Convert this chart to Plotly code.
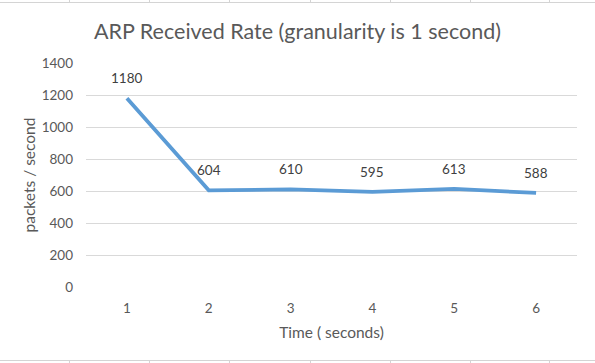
import plotly.graph_objects as go

# Data
time_s = [1, 2, 3, 4, 5, 6]
packets_per_sec = [1180, 604, 610, 595, 613, 588]
y_ticks = [0, 200, 400, 600, 800, 1000, 1200, 1400]

W, H = 595, 363
L, R, T, B = 86, 18, 63, 76
FONT = "Lato"
GREY = "#595959"

fig = go.Figure()
fig.add_trace(go.Scatter(
    x=time_s, y=packets_per_sec, mode="lines",
    line=dict(color="#5B9BD5", width=3.8),
    hoverinfo="skip", showlegend=False,
))

for xv, yv in zip(time_s, packets_per_sec):
    fig.add_annotation(x=xv, y=yv, text=str(yv), showarrow=False, yshift=20,
                       font=dict(family=FONT, size=13.5, color="#404040"))

# spreadsheet cell borders behind the chart (decoration)
pw, ph = W - L - R, H - T - B
def px(x):
    return (x - L) / pw
def py(y):
    return (H - B - y) / ph
cell_cols = [69, 149, 229, 310, 390, 470, 549]
line_style = dict(color="#D4D4D4", width=1)
shapes = [
    dict(type="line", xref="paper", yref="paper", x0=px(0), x1=px(W), y0=py(2.5), y1=py(2.5), line=line_style),
    dict(type="line", xref="paper", yref="paper", x0=px(0), x1=px(W), y0=py(360.5), y1=py(360.5), line=line_style),
]
for c in cell_cols:
    shapes.append(dict(type="line", xref="paper", yref="paper", x0=px(c + 0.5), x1=px(c + 0.5), y0=py(0), y1=py(2.5), line=line_style))
    shapes.append(dict(type="line", xref="paper", yref="paper", x0=px(c + 0.5), x1=px(c + 0.5), y0=py(360.5), y1=py(363), line=line_style))

fig.update_layout(
    width=W, height=H,
    margin=dict(l=L, r=R, t=T, b=B),
    paper_bgcolor="white", plot_bgcolor="white",
    font=dict(family=FONT, color=GREY),
    title=dict(text="ARP Received Rate (granularity is 1 second)",
               x=0.5, xref="container", xanchor="center",
               y=1 - 31 / H, yanchor="middle",
               font=dict(family=FONT, size=21.5, color=GREY)),
    shapes=shapes,
    xaxis=dict(
        range=[0.5, 6.5], tickmode="array", tickvals=time_s,
        ticktext=[str(t) for t in time_s],
        showgrid=False, zeroline=False, showline=False, ticks="",
        ticklabelstandoff=11,
        tickfont=dict(family=FONT, size=13.5, color=GREY),
        title=dict(text="Time ( seconds)", font=dict(family=FONT, size=15.5, color=GREY), standoff=12),
    ),
    yaxis=dict(
        range=[0, 1400], tickmode="array", tickvals=y_ticks,
        showgrid=True, gridcolor="#D9D9D9", gridwidth=1,
        zeroline=False, showline=False, ticks="",
        ticklabelstandoff=12,
        tickfont=dict(family=FONT, size=13.5, color=GREY),
        title=dict(text="packets / second", font=dict(family=FONT, size=15.5, color=GREY), standoff=2),
    ),
)

fig.write_html("out.html", config={"displayModeBar": False})
with open("out.html", encoding="utf-8") as f:
    html = f.read()
html = html.replace("<body>", '<body style="margin:0;padding:0;">', 1)
with open("out.html", "w", encoding="utf-8") as f:
    f.write(html)
